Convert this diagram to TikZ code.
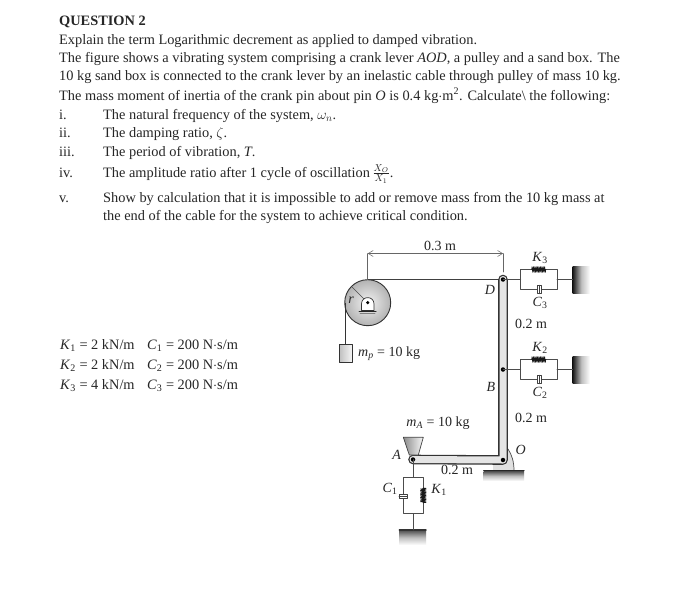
\documentclass[tikz,border=0pt]{standalone}
\usepackage{fontspec}
\setmainfont{Liberation Serif}
\usetikzlibrary{decorations.pathmorphing, arrows.meta}
\newcommand{\vsub}[2]{\textit{#1}\textsubscript{#2}}
\begin{document}
\begin{tikzpicture}[line cap=round, line join=round, >={Straight Barb[length=5pt,width=6pt]}, x=1pt, y=-1pt, font=\fontsize{14.36}{16}\selectfont, text=black!85]
	\tikzset{line/.style={anchor=base west, inner sep=0pt},
		lab/.style={inner sep=0pt, font=\fontsize{14}{16}\selectfont},
		link/.style={draw=black!70, line width=0.8pt},
		coil/.style={draw=black!90, line width=0.7pt, decorate, decoration={zigzag, segment length=1.4pt, amplitude=2.8pt}},
		dashpot/.style={draw=black!75, fill=white, line width=0.6pt},
		dim/.style={draw=black!60, line width=0.5pt},
		wall/.style={draw=none, left color=black!90, right color=white, middle color=black!25},
		ground/.style={draw=none, top color=black!70, bottom color=white, middle color=black!25},
		dot/.style={circle, fill=black, inner sep=0pt, minimum size=4.5pt}}
	\fill[white] (0,0) rectangle (700,599);
	\useasboundingbox (0,0) rectangle (700,599);
	% question text
	\node[line, font=\fontsize{14.36}{16}\selectfont\bfseries] (qhead) at (59,26) {QUESTION 2};
	\node[line] (q1) at (59,45) {Explain the term Logarithmic decrement as applied to damped vibration.};
	\node[line] (q2) at (59,63) {The figure shows a vibrating system comprising a crank lever \textit{AOD}, a pulley and a sand box. The};
	\node[line] (q3) at (59,81) {10 kg sand box is connected to the crank lever by an inelastic cable through pulley of mass 10 kg.};
	\node[line] (q4) at (59,100) {The mass moment of inertia of the crank pin about pin \textit{O} is 0.4 kg$\cdot$m\textsuperscript{2}. Calculate\textbackslash\ the following:};
	\node[line] (n1) at (59,119) {i.};
	\node[line] (t1) at (103,119) {The natural frequency of the system, $\omega_n$.};
	\node[line] (n2) at (59,137) {ii.};
	\node[line] (t2) at (103,137) {The damping ratio, $\zeta$.};
	\node[line] (n3) at (59,156) {iii.};
	\node[line] (t3) at (103,156) {The period of vibration, \textit{T}.};
	\node[line] (n4) at (59,177) {iv.};
	\node[line] (t4) at (103,177) {The amplitude ratio after 1 cycle of oscillation\,$\frac{X_O}{X_1}$.};
	\node[line] (n5) at (59,202) {v.};
	\node[line] (t5) at (103,202) {Show by calculation that it is impossible to add or remove mass from the 10 kg mass at};
	\node[line] (t6) at (103,220) {the end of the cable for the system to achieve critical condition.};
	% data
	\node[line] (d1) at (60,349) {\vsub{K}{1} = 2 kN/m};
	\node[line] (e1) at (147,349) {\vsub{C}{1} = 200 N$\cdot$s/m};
	\node[line] (d2) at (60,369) {\vsub{K}{2} = 2 kN/m};
	\node[line] (e2) at (147,369) {\vsub{C}{2} = 200 N$\cdot$s/m};
	\node[line] (d3) at (60,389) {\vsub{K}{3} = 4 kN/m};
	\node[line] (e3) at (147,389) {\vsub{C}{3} = 200 N$\cdot$s/m};
	% points
	\coordinate (D) at (503,279.5);
	\coordinate (B) at (503,369.5);
	\coordinate (O) at (503,460);
	\coordinate (A) at (413,459.5);
	\coordinate (P) at (367.7,302.7);
	\coordinate (ptop) at (367.7,279.5);
	\coordinate (pleft) at (345.5,303);
	\coordinate (dl) at (367.7,253.5);
	\coordinate (dr) at (503,253.5);
	\coordinate (drb) at (503,272);
	% pulley
	\shade[inner color=black!5, outer color=black!30] (P) circle (23);
	\draw[black!80, line width=0.9pt] (P) circle (23);
	\draw[dim, black!70] (P) -- (351.7,286.7);
	\node[lab] (rlab) at (351,300) {\textit{r}};
	\draw[black!80, fill=white, line width=0.7pt] (361.5,310.5) -- (361.5,304) .. controls (361.5,295.5) and (374,295.5) .. (374,304) -- (374,310.5) -- cycle;
	\node[dot, minimum size=3.5pt] (pin) at (P) {};
	\draw[black!85, line width=1pt] (359,311.5) -- (376,311.5);
	\draw[black!50, line width=0.7pt] (360,313.5) -- (375,313.5);
	% cable and sand box
	\draw[black!75, line width=1.5pt] (ptop) -- (D);
	\draw[black!80, line width=0.8pt] (pleft) -- (345.5,344);
	\node[draw=black!80, line width=0.8pt, left color=black!25, right color=black!3, minimum width=13.5pt, minimum height=18pt, inner sep=0pt] (mp) at (345.8,353) {};
	\node[lab, anchor=base west] (mplab) at (358,356) {\vsub{m}{\textit{p}} = 10 kg};
	% dimension
	\draw[dim] (ptop) -- (dl);
	\draw[dim] (dr) -- (drb);
	\draw[dim, <->] (dl) -- (dr);
	\node[lab] (dimw) at (440,246) {0.3 m};
	% support at O
	\fill[black!12] (493,470.7) -- (493,465) -- (508,449) .. controls (512,455) and (514,462) .. (514,470.7) -- cycle;
	\draw[black!70, line width=0.7pt] (508,449) .. controls (512,455) and (514,462) .. (514,470.7);
	\shade[ground] (483.5,471) rectangle (524,481);
	\draw[black!85, line width=1pt] (483.5,470.7) -- (524,470.7);
	% lever
	\draw[black!80, line width=9.6pt] (D) -- (O) -- (A);
	\draw[black!10, line width=7pt] (D) -- (O) -- (A);
	% hopper
	\draw[black!75, line width=0.7pt, left color=black!45, right color=black!3] (403.3,437.3) -- (423.3,437.3) -- (418.3,455) -- (409.3,455) -- cycle;
	\node[lab] (malab) at (438,423) {\vsub{m}{\textit{A}} = 10 kg};
	\foreach \j in {D,B,O,A}
		\node[dot] (pt\j) at (\j) {};
	\node[lab] (lD) at (490,290) {\textit{D}};
	\node[lab] (lB) at (491,387) {\textit{B}};
	\node[lab] (lO) at (520.7,450) {\textit{O}};
	\node[lab] (lA) at (396.7,455) {\textit{A}};
	\node[lab] (lw1) at (531,324) {0.2 m};
	\node[lab] (lw2) at (531,418) {0.2 m};
	\node[lab] (lw3) at (457,469.5) {0.2 m};
	% upper spring and damper sets
	\foreach \j/\n/\y in {D/3/279.5,B/2/369.5} {
		\coordinate (tl\n) at (520.7,\y-10);
		\coordinate (tr\n) at (557,\y-10);
		\coordinate (bl\n) at (520.7,\y+10);
		\coordinate (br\n) at (557,\y+10);
		\coordinate (in\n) at (520.7,\y);
		\coordinate (out\n) at (557,\y);
		\coordinate (sa\n) at (531.7,\y-10);
		\coordinate (sb\n) at (546,\y-10);
		\shade[wall] (572.7,\y-13) rectangle (590,\y+13.5);
		\coordinate (wl\n) at (572.7,\y);
		\draw[link] (\j) -- (in\n);
		\draw[link] (in\n) -- (tl\n) -- (tr\n) -- (br\n) -- (bl\n) -- cycle;
		\draw[link] (out\n) -- (wl\n);
		\draw[coil] (sa\n) -- (sb\n);
		\node[dashpot, minimum width=3.6pt, minimum height=8pt, inner sep=0pt] (cp\n) at (539.3,\y+10) {};
		\draw[black!75, line width=0.6pt] (cp\n.north) -- (cp\n.south);
		\node[lab] (K\n) at (540,\y-21.5) {\vsub{K}{\n}};
		\node[lab] (C\n) at (540,\y+23) {\vsub{C}{\n}};
	}
	% lower spring and damper set
	\coordinate (ltl) at (403.3,477.3);
	\coordinate (ltr) at (423.3,477.3);
	\coordinate (lbl) at (403.3,513.7);
	\coordinate (lbr) at (423.3,513.7);
	\coordinate (lt) at (413,477.3);
	\coordinate (lb) at (413,513.7);
	\coordinate (lg) at (413,530);
	\coordinate (ssa) at (423.3,488);
	\coordinate (ssb) at (423.3,503);
	\shade[ground] (399.3,530) rectangle (426,545);
	\draw[black!80, line width=1.4pt] (399.3,530) -- (426,530);
	\draw[link] (A) -- (lt);
	\draw[link] (ltl) -- (ltr) -- (lbr) -- (lbl) -- cycle;
	\draw[link] (lb) -- (lg);
	\fill[white] (420,488) rectangle (426.5,503);
	\draw[coil] (ssa) -- (ssb);
	\node[dashpot, minimum width=8pt, minimum height=3.6pt, inner sep=0pt] (cp1) at (403.3,496) {};
	\draw[black!75, line width=0.6pt] (cp1.west) -- (cp1.east);
	\node[lab] (C1) at (390,489) {\vsub{C}{1}};
	\node[lab] (K1) at (439,490) {\vsub{K}{1}};
\end{tikzpicture}
\end{document}
